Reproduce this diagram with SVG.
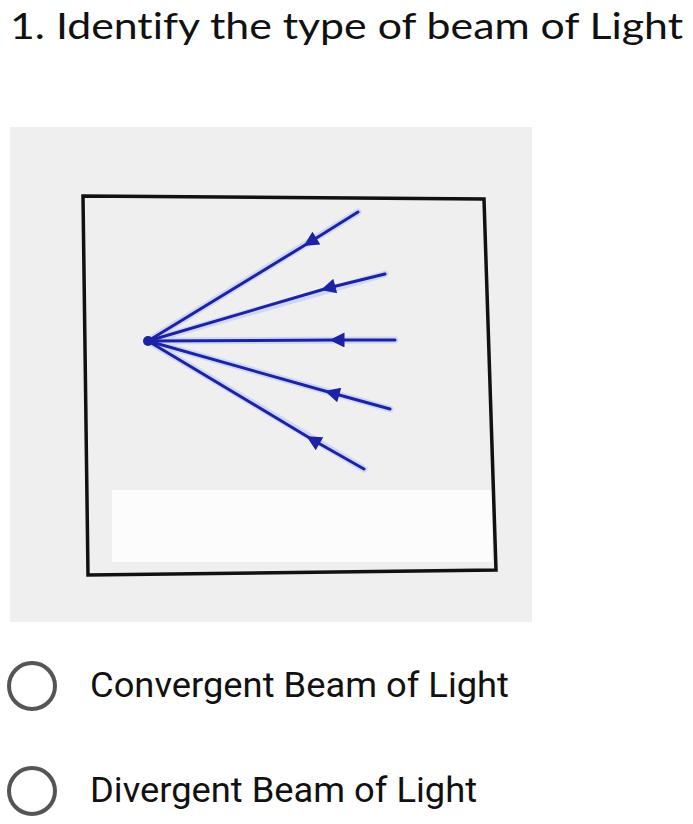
<svg xmlns="http://www.w3.org/2000/svg" width="693" height="824" viewBox="0 0 693 824">
<style>
.title{font-family:Lato,"Open Sans","Liberation Sans",sans-serif;font-size:37.5px;fill:#111;font-variant-ligatures:none;font-feature-settings:"liga" 0}
.opt{font-family:Roboto,"Liberation Sans",sans-serif;font-size:35px;fill:#111}
.radio{fill:none;stroke:#555;stroke-width:4}
.halo{fill:none;stroke:#b9c6ff;stroke-width:7;stroke-linecap:round;opacity:0.6}
.ray{fill:none;stroke:#1c22a3;stroke-width:3;stroke-linecap:round;marker-mid:url(#arr)}
.box{fill:none;stroke:#111;stroke-width:3.5;stroke-linejoin:miter}
</style>
<defs>
<marker id="arr" viewBox="0 0 10 10" refX="5" refY="5" markerWidth="5.5" markerHeight="5" orient="auto" markerUnits="strokeWidth">
<path d="M0,5 L10,0 L10,10 Z" transform="rotate(180 5 5)" fill="#1c22a3"/>
</marker>
</defs>
<rect width="693" height="824" fill="#fff"/>
<text class="title" x="10" y="38.5" textLength="673" lengthAdjust="spacingAndGlyphs">1. Identify the type of beam of Light</text>
<g id="figure">
<rect x="10" y="127" width="522" height="495" fill="#efefef"/>
<rect x="112" y="490" width="380" height="72" fill="#fcfcfc"/>
<path class="box" d="M83,196 L484,199 L496,570 L88,575 Z"/>
</g>
<g id="rays">
<path class="halo" d="M358,212 L148,341 M385,274 L148,341 M395,340 L148,341 M390,409 L148,341 M364,469 L148,341"/>
<path class="ray" d="M358,212 L310,242 L148,341"/>
<path class="ray" d="M385,274 L328,288 L148,341"/>
<path class="ray" d="M395,340 L337,340 L148,341"/>
<path class="ray" d="M390,409 L332,393 L148,341"/>
<path class="ray" d="M364,469 L313,440 L148,341"/>
<circle cx="148" cy="341" r="5" fill="#1c22a3"/>
</g>
<g id="option1">
<circle class="radio" cx="32" cy="686" r="23"/>
<text class="opt" x="90" y="697" textLength="419" lengthAdjust="spacingAndGlyphs">Convergent Beam of Light</text>
</g>
<g id="option2">
<circle class="radio" cx="32" cy="791" r="23"/>
<text class="opt" x="90" y="802" textLength="387" lengthAdjust="spacingAndGlyphs">Divergent Beam of Light</text>
</g>
</svg>
